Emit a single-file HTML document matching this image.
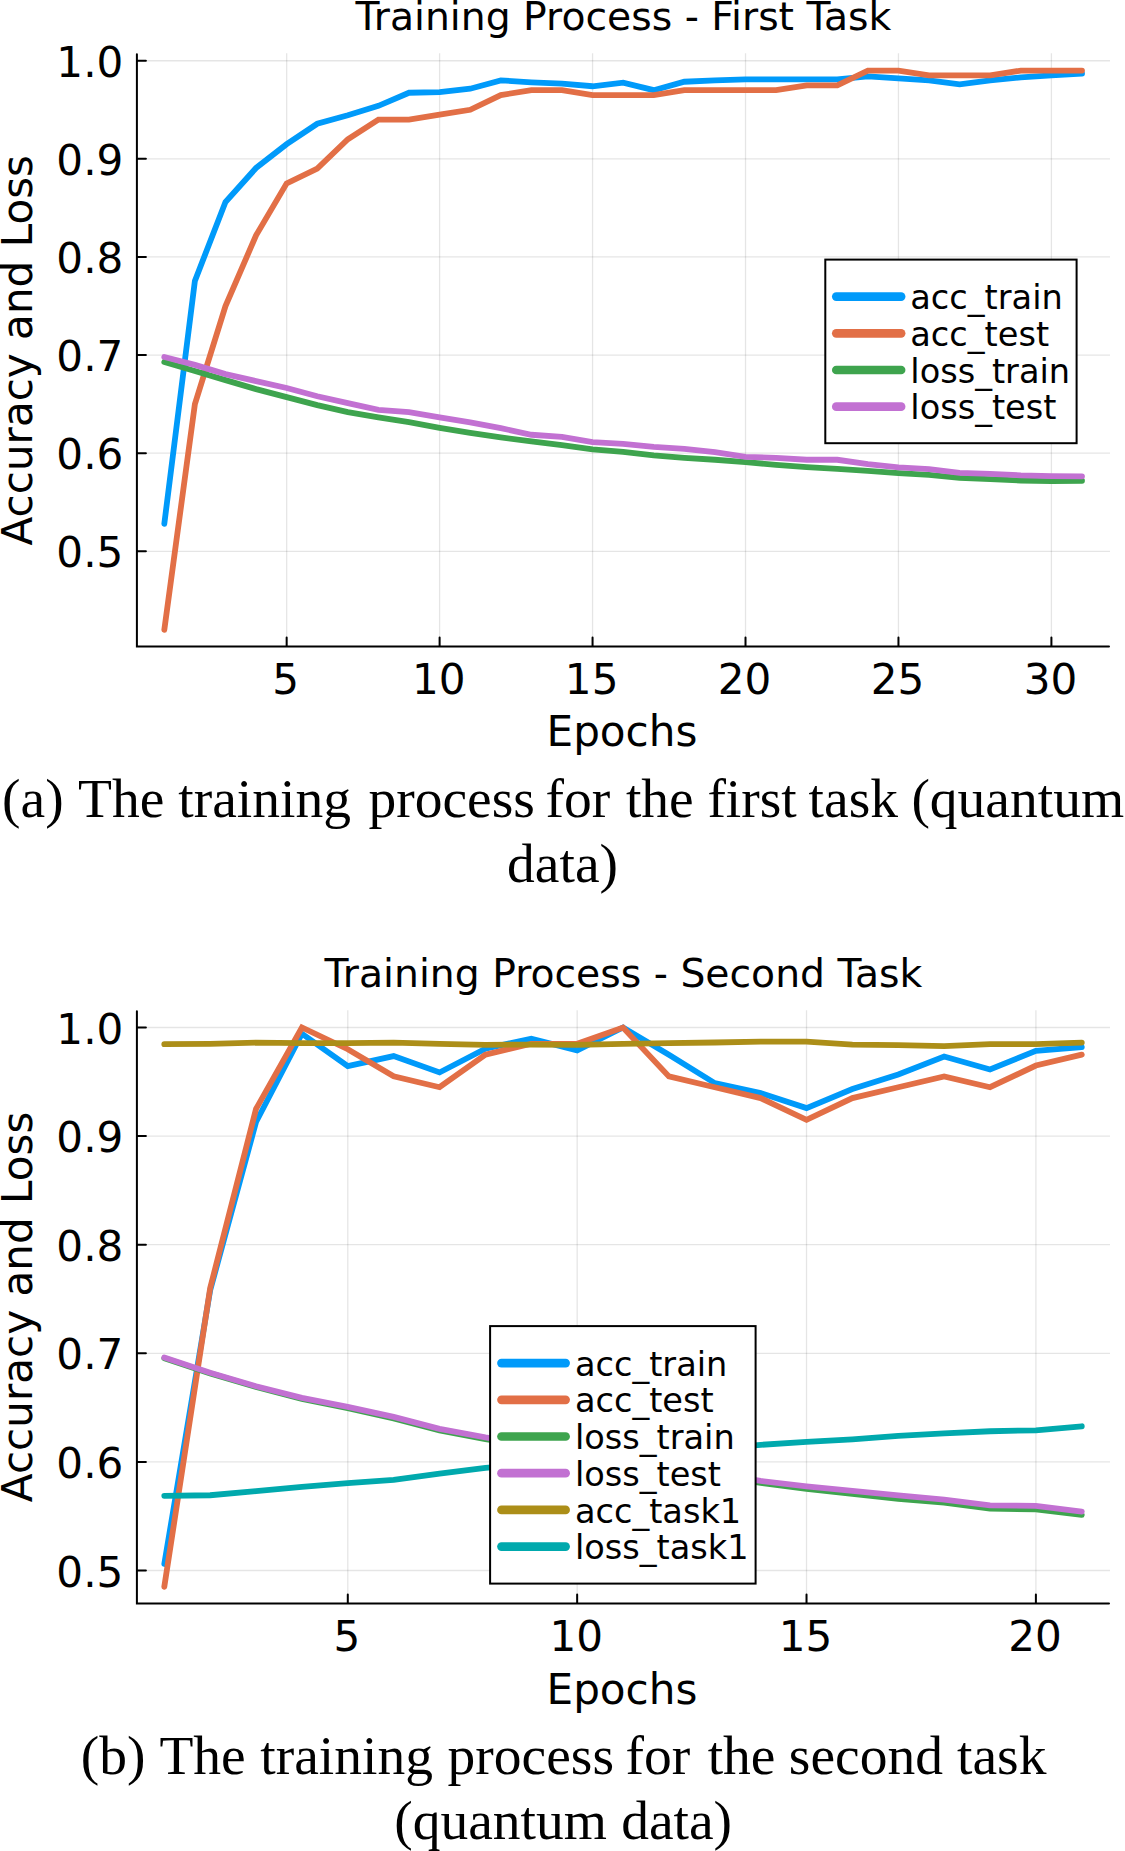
<!DOCTYPE html>
<html><head><meta charset="utf-8"><title>Training Process</title><style>
html,body{margin:0;padding:0;background:#fff;}
body{width:1125px;height:1851px;overflow:hidden;}
svg{display:block;}
.t{font-family:'DejaVu Sans', 'Liberation Sans', sans-serif;font-size:42.1px;fill:#000;}
.ti{font-family:'DejaVu Sans', 'Liberation Sans', sans-serif;font-size:39.3px;fill:#000;}
.lg{font-family:'DejaVu Sans', 'Liberation Sans', sans-serif;font-size:33.6px;fill:#000;}
.cap{font-family:'Liberation Serif', 'Times New Roman', serif;font-size:55.5px;fill:#000;}
</style></head>
<body><svg width="1125" height="1851" viewBox="0 0 1125 1851">
<rect width="1125" height="1851" fill="#fff"/>
<g stroke="#000" stroke-opacity="0.1" stroke-width="1.3" fill="none">
<path d="M286.66 53.2V646.4"/>
<path d="M439.61 53.2V646.4"/>
<path d="M592.56 53.2V646.4"/>
<path d="M745.51 53.2V646.4"/>
<path d="M898.46 53.2V646.4"/>
<path d="M1051.41 53.2V646.4"/>
<path d="M136.9 60.75H1110"/>
<path d="M136.9 158.86H1110"/>
<path d="M136.9 256.97H1110"/>
<path d="M136.9 355.08H1110"/>
<path d="M136.9 453.19H1110"/>
<path d="M136.9 551.3H1110"/>
</g>
<polyline points="164.3,523.83 194.89,280.91 225.48,202.03 256.07,167.98 286.66,144.14 317.25,123.74 347.84,115.2 378.43,105.88 409.02,92.73 439.61,92.15 470.2,88.71 500.79,80.37 531.38,82.33 561.97,83.71 592.56,86.26 623.15,82.73 653.74,90.18 684.33,81.75 714.92,80.37 745.51,79.39 776.1,79.39 806.69,79.39 837.28,79.39 867.87,76.45 898.46,78.41 929.05,80.37 959.64,84.3 990.23,80.37 1020.82,77.43 1051.41,75.47 1082,73.5" fill="none" stroke="#009AFA" stroke-width="5.8" stroke-linecap="round" stroke-linejoin="miter" stroke-miterlimit="10"/>
<polyline points="164.3,629.79 194.89,404.13 225.48,306.02 256.07,235.39 286.66,183.39 317.25,168.67 347.84,139.24 378.43,119.62 409.02,119.62 439.61,114.71 470.2,109.81 500.79,95.09 531.38,90.18 561.97,90.18 592.56,95.09 623.15,95.09 653.74,95.09 684.33,90.18 714.92,90.18 745.51,90.18 776.1,90.18 806.69,85.28 837.28,85.28 867.87,70.56 898.46,70.56 929.05,75.47 959.64,75.47 990.23,75.47 1020.82,70.56 1051.41,70.56 1082,70.56" fill="none" stroke="#E26F46" stroke-width="5.8" stroke-linecap="round" stroke-linejoin="miter" stroke-miterlimit="10"/>
<polyline points="164.3,362.05 194.89,371.07 225.48,380.1 256.07,389.12 286.66,397.07 317.25,405.12 347.84,412.08 378.43,417.38 409.02,422.19 439.61,427.78 470.2,432.78 500.79,437.39 531.38,441.42 561.97,445.14 592.56,449.36 623.15,451.82 653.74,455.35 684.33,457.8 714.92,459.76 745.51,462.22 776.1,464.77 806.69,467.02 837.28,468.79 867.87,470.85 898.46,473.2 929.05,474.97 959.64,477.82 990.23,479.19 1020.82,480.56 1051.41,481.15 1082,480.76" fill="none" stroke="#3EA44E" stroke-width="5.8" stroke-linecap="round" stroke-linejoin="miter" stroke-miterlimit="10"/>
<polyline points="164.3,357.04 194.89,364.89 225.48,374.11 256.07,381.08 286.66,388.04 317.25,396.29 347.84,403.15 378.43,409.83 409.02,412.18 439.61,417.38 470.2,422.38 500.79,428.17 531.38,434.75 561.97,436.81 592.56,442.2 623.15,443.77 653.74,446.81 684.33,448.78 714.92,452.21 745.51,456.82 776.1,457.8 806.69,459.76 837.28,459.76 867.87,464.18 898.46,467.42 929.05,469.08 959.64,472.81 990.23,473.79 1020.82,475.36 1051.41,476.15 1082,476.34" fill="none" stroke="#C271D2" stroke-width="5.8" stroke-linecap="round" stroke-linejoin="miter" stroke-miterlimit="10"/>
<path d="M136.9 54.2V646.4H1109M286.66 646.4v-9M439.61 646.4v-9M592.56 646.4v-9M745.51 646.4v-9M898.46 646.4v-9M1051.41 646.4v-9M136.9 60.75h9M136.9 158.86h9M136.9 256.97h9M136.9 355.08h9M136.9 453.19h9M136.9 551.3h9" stroke="#000" stroke-width="2.0" fill="none" stroke-linecap="round"/>
<text x="285.76" y="694.4" text-anchor="middle" class="t">5</text>
<text x="438.71" y="694.4" text-anchor="middle" class="t">10</text>
<text x="591.66" y="694.4" text-anchor="middle" class="t">15</text>
<text x="744.61" y="694.4" text-anchor="middle" class="t">20</text>
<text x="897.56" y="694.4" text-anchor="middle" class="t">25</text>
<text x="1050.51" y="694.4" text-anchor="middle" class="t">30</text>
<text x="123.3" y="76.85" text-anchor="end" class="t">1.0</text>
<text x="123.3" y="174.96" text-anchor="end" class="t">0.9</text>
<text x="123.3" y="273.07" text-anchor="end" class="t">0.8</text>
<text x="123.3" y="371.18" text-anchor="end" class="t">0.7</text>
<text x="123.3" y="469.29" text-anchor="end" class="t">0.6</text>
<text x="123.3" y="567.4" text-anchor="end" class="t">0.5</text>
<text x="623.45" y="30.4" text-anchor="middle" class="ti">Training Process - First Task</text>
<text x="621.95" y="746.4" text-anchor="middle" class="t">Epochs</text>
<text transform="translate(32,350.2) rotate(-90)" x="0" y="0" text-anchor="middle" class="t">Accuracy and Loss</text>
<rect x="825.3" y="259.6" width="251.3" height="183.6" fill="#fff" stroke="#000" stroke-width="2.0"/>
<line x1="836.3" y1="296.6" x2="901.1" y2="296.6" stroke="#009AFA" stroke-width="8.7" stroke-linecap="round"/>
<text x="910.3" y="309.2" class="lg">acc_train</text>
<line x1="836.3" y1="333.3" x2="901.1" y2="333.3" stroke="#E26F46" stroke-width="8.7" stroke-linecap="round"/>
<text x="910.3" y="345.9" class="lg">acc_test</text>
<line x1="836.3" y1="370" x2="901.1" y2="370" stroke="#3EA44E" stroke-width="8.7" stroke-linecap="round"/>
<text x="910.3" y="382.6" class="lg">loss_train</text>
<line x1="836.3" y1="406.7" x2="901.1" y2="406.7" stroke="#C271D2" stroke-width="8.7" stroke-linecap="round"/>
<text x="910.3" y="419.3" class="lg">loss_test</text>
<g stroke="#000" stroke-opacity="0.1" stroke-width="1.3" fill="none">
<path d="M347.79 1010.2V1603.6"/>
<path d="M577.16 1010.2V1603.6"/>
<path d="M806.52 1010.2V1603.6"/>
<path d="M1035.89 1010.2V1603.6"/>
<path d="M136.9 1027.5H1110"/>
<path d="M136.9 1136.1H1110"/>
<path d="M136.9 1244.7H1110"/>
<path d="M136.9 1353.3H1110"/>
<path d="M136.9 1461.9H1110"/>
<path d="M136.9 1570.5H1110"/>
</g>
<polyline points="164.3,1563.98 210.17,1290.31 256.05,1121.98 301.92,1033.69 347.79,1066.05 393.66,1056.06 439.54,1072.46 485.41,1048.68 531.28,1038.69 577.16,1050.31 623.03,1027.5 668.9,1054.65 714.78,1083.1 760.65,1093.09 806.52,1108.08 852.39,1089.08 898.27,1074.52 944.14,1056.5 990.01,1069.53 1035.89,1050.74 1081.76,1047.05" fill="none" stroke="#009AFA" stroke-width="5.8" stroke-linecap="round" stroke-linejoin="miter" stroke-miterlimit="10"/>
<polyline points="164.3,1586.79 210.17,1288.14 256.05,1108.95 301.92,1027.5 347.79,1049.22 393.66,1076.37 439.54,1087.23 485.41,1054.65 531.28,1043.79 577.16,1043.79 623.03,1027.5 668.9,1076.37 714.78,1087.23 760.65,1098.09 806.52,1119.81 852.39,1098.09 898.27,1087.23 944.14,1076.37 990.01,1087.23 1035.89,1065.51 1081.76,1054.65" fill="none" stroke="#E26F46" stroke-width="5.8" stroke-linecap="round" stroke-linejoin="miter" stroke-miterlimit="10"/>
<polyline points="164.3,1358.19 210.17,1373.39 256.05,1386.97 301.92,1398.91 347.79,1408.14 393.66,1418.46 439.54,1430.41 485.41,1439.09 531.28,1446.39 577.16,1453.68 623.03,1460.98 668.9,1468.27 714.78,1475.57 760.65,1482.86 806.52,1488.94 852.39,1493.94 898.27,1498.93 944.14,1502.62 990.01,1508.49 1035.89,1509.47 1081.76,1514.9" fill="none" stroke="#3EA44E" stroke-width="5.8" stroke-linecap="round" stroke-linejoin="miter" stroke-miterlimit="10"/>
<polyline points="164.3,1357.54 210.17,1372.85 256.05,1386.31 301.92,1397.93 347.79,1406.95 393.66,1416.94 439.54,1428.89 485.41,1437.46 531.28,1444.7 577.16,1451.94 623.03,1459.18 668.9,1466.42 714.78,1473.66 760.65,1480.9 806.52,1486.34 852.39,1490.9 898.27,1495.46 944.14,1499.58 990.01,1505.34 1035.89,1505.88 1081.76,1511.53" fill="none" stroke="#C271D2" stroke-width="5.8" stroke-linecap="round" stroke-linejoin="miter" stroke-miterlimit="10"/>
<polyline points="164.3,1044.12 210.17,1043.79 256.05,1042.7 301.92,1043.14 347.79,1043.14 393.66,1042.7 439.54,1043.79 485.41,1044.88 531.28,1044.55 577.16,1044.88 623.03,1043.79 668.9,1043.14 714.78,1042.49 760.65,1041.62 806.52,1041.62 852.39,1044.55 898.27,1045.09 944.14,1046.07 990.01,1044.12 1035.89,1044.12 1081.76,1042.7" fill="none" stroke="#AC8E18" stroke-width="5.8" stroke-linecap="round" stroke-linejoin="miter" stroke-miterlimit="10"/>
<polyline points="164.3,1495.78 210.17,1495.24 256.05,1491.11 301.92,1486.88 347.79,1483.08 393.66,1479.93 439.54,1473.52 485.41,1467.87 531.28,1464.04 577.16,1460.2 623.03,1456.36 668.9,1452.52 714.78,1448.69 760.65,1444.85 806.52,1441.92 852.39,1439.31 898.27,1435.84 944.14,1433.45 990.01,1431.27 1035.89,1430.3 1081.76,1426.28" fill="none" stroke="#00A9AD" stroke-width="5.8" stroke-linecap="round" stroke-linejoin="miter" stroke-miterlimit="10"/>
<path d="M136.9 1011.2V1603.6H1109M347.79 1603.6v-9M577.16 1603.6v-9M806.52 1603.6v-9M1035.89 1603.6v-9M136.9 1027.5h9M136.9 1136.1h9M136.9 1244.7h9M136.9 1353.3h9M136.9 1461.9h9M136.9 1570.5h9" stroke="#000" stroke-width="2.0" fill="none" stroke-linecap="round"/>
<text x="346.89" y="1650.8" text-anchor="middle" class="t">5</text>
<text x="576.26" y="1650.8" text-anchor="middle" class="t">10</text>
<text x="805.62" y="1650.8" text-anchor="middle" class="t">15</text>
<text x="1034.99" y="1650.8" text-anchor="middle" class="t">20</text>
<text x="123.3" y="1043.6" text-anchor="end" class="t">1.0</text>
<text x="123.3" y="1152.2" text-anchor="end" class="t">0.9</text>
<text x="123.3" y="1260.8" text-anchor="end" class="t">0.8</text>
<text x="123.3" y="1369.4" text-anchor="end" class="t">0.7</text>
<text x="123.3" y="1478" text-anchor="end" class="t">0.6</text>
<text x="123.3" y="1586.6" text-anchor="end" class="t">0.5</text>
<text x="623.45" y="986.8" text-anchor="middle" class="ti">Training Process - Second Task</text>
<text x="621.95" y="1703.7" text-anchor="middle" class="t">Epochs</text>
<text transform="translate(32,1306.9) rotate(-90)" x="0" y="0" text-anchor="middle" class="t">Accuracy and Loss</text>
<rect x="490.1" y="1326.1" width="265.5" height="257.5" fill="#fff" stroke="#000" stroke-width="2.0"/>
<line x1="501.5" y1="1363.1" x2="565.6" y2="1363.1" stroke="#009AFA" stroke-width="8.7" stroke-linecap="round"/>
<text x="574.9" y="1375.7" class="lg">acc_train</text>
<line x1="501.5" y1="1399.8" x2="565.6" y2="1399.8" stroke="#E26F46" stroke-width="8.7" stroke-linecap="round"/>
<text x="574.9" y="1412.4" class="lg">acc_test</text>
<line x1="501.5" y1="1436.5" x2="565.6" y2="1436.5" stroke="#3EA44E" stroke-width="8.7" stroke-linecap="round"/>
<text x="574.9" y="1449.1" class="lg">loss_train</text>
<line x1="501.5" y1="1473.2" x2="565.6" y2="1473.2" stroke="#C271D2" stroke-width="8.7" stroke-linecap="round"/>
<text x="574.9" y="1485.8" class="lg">loss_test</text>
<line x1="501.5" y1="1509.9" x2="565.6" y2="1509.9" stroke="#AC8E18" stroke-width="8.7" stroke-linecap="round"/>
<text x="574.9" y="1522.5" class="lg">acc_task1</text>
<line x1="501.5" y1="1546.6" x2="565.6" y2="1546.6" stroke="#00A9AD" stroke-width="8.7" stroke-linecap="round"/>
<text x="574.9" y="1559.2" class="lg">loss_task1</text>
<text y="816.9" class="cap"><tspan x="2.1">(a)</tspan> <tspan x="78.1">The</tspan> <tspan x="178.3">training</tspan> <tspan x="368.5">process</tspan> <tspan x="545.5">for</tspan> <tspan x="625.9">the</tspan> <tspan x="707.4">first</tspan> <tspan x="808.6">task</tspan> <tspan x="911.4">(quantum</tspan></text>
<text y="882.1" class="cap"><tspan x="507.1">data)</tspan></text>
<text y="1774.4" class="cap"><tspan x="80.8">(b)</tspan> <tspan x="159.4">The</tspan> <tspan x="260.3">training</tspan> <tspan x="447.6">process</tspan> <tspan x="625.6">for</tspan> <tspan x="707.7">the</tspan> <tspan x="788.8">second</tspan> <tspan x="957">task</tspan></text>
<text y="1838.6" class="cap"><tspan x="394.2">(quantum</tspan> <tspan x="621.2">data)</tspan></text>
</svg></body></html>
